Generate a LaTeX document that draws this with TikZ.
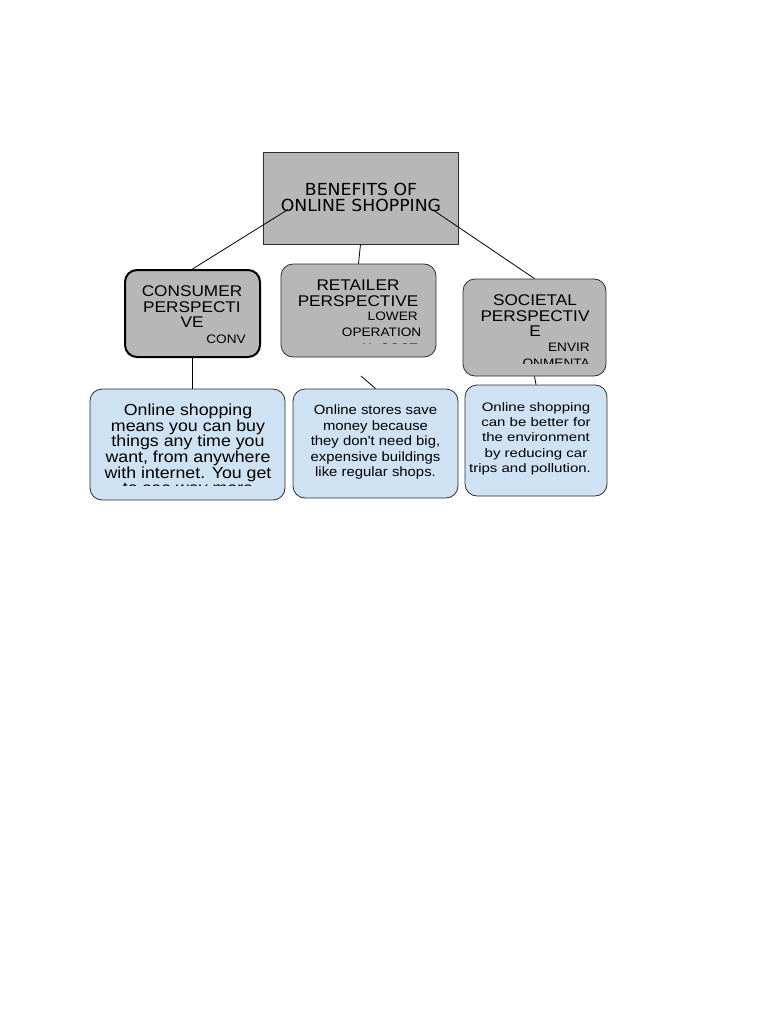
\documentclass[tikz,border=0pt]{standalone}
\usepackage{fontspec}
\newfontfamily\lsA[FakeStretch=1.11]{Liberation Sans}
\newfontfamily\lsB[FakeStretch=1.22]{Liberation Sans}
\newfontfamily\dvs[FakeStretch=1.04]{DejaVu Sans}
\definecolor{boxgray}{RGB}{183,183,183}
\definecolor{boxblue}{RGB}{207,226,243}
\definecolor{edgegray}{RGB}{45,45,45}
\tikzset{
  graybox/.style={draw=edgegray, line width=0.8pt, fill=boxgray, rounded corners=12pt, inner sep=0pt},
  bluebox/.style={draw=edgegray, line width=0.8pt, fill=boxblue, rounded corners=12pt, inner sep=0pt},
  txt/.style={inner sep=0pt, align=center, text=black},
  conn/.style={draw=black, line width=0.8pt},
}
\begin{document}
\begin{tikzpicture}[x=1pt,y=-1pt]
\useasboundingbox (0,0) rectangle (768,1024);
\fill[white] (0,0) rectangle (768,1024);

% boxes
\node[draw=edgegray, line width=0.8pt, fill=boxgray, inner sep=0pt, minimum width=195pt, minimum height=92pt] (title) at (360.5,198) {};
\node[graybox, draw=black, line width=2pt, minimum width=135pt, minimum height=87pt] (cons) at (192.5,313.5) {};
\node[graybox, minimum width=155pt, minimum height=93pt] (ret) at (358.5,310.5) {};
\node[graybox, minimum width=143pt, minimum height=97pt] (soc) at (534.5,327.5) {};
\node[bluebox, minimum width=195pt, minimum height=111pt] (cblue) at (187.5,444.5) {};
\node[bluebox, minimum width=165pt, minimum height=109pt] (rblue) at (375.5,443.5) {};
\node[bluebox, minimum width=142pt, minimum height=111pt] (sblue) at (536,440.5) {};

% texts
\node[txt, font=\dvs\fontsize{16.6}{16}\selectfont] (titletxt) at (361,197) {BENEFITS OF\\ONLINE SHOPPING};
\node[txt, font=\lsA\fontsize{15.5}{15.5}\selectfont] (constxt) at (192,307) {CONSUMER\\PERSPECTI\\VE};
\node[txt, anchor=east, font=\lsA\fontsize{12.3}{16}\selectfont] (conssub) at (246,339) {CONV};
\node[txt, font=\lsA\fontsize{15.5}{15.5}\selectfont] (rettxt) at (358,293) {RETAILER\\PERSPECTIVE};
\begin{scope}
  \clip (300,305) rectangle (430,343.5);
  \node[txt, align=right, anchor=east, font=\lsA\fontsize{12.3}{16}\selectfont] (retsub) at (421.5,332.5) {LOWER\hspace*{3.5pt}\\OPERATION\\AL COST\hspace*{3.5pt}};
\end{scope}
\node[txt, font=\lsA\fontsize{15.5}{15.5}\selectfont] (soctxt) at (535,316) {SOCIETAL\\PERSPECTIV\\E};
\begin{scope}
  \clip (480,335) rectangle (600,363.5);
  \node[txt, align=right, anchor=east, font=\lsA\fontsize{12.3}{16}\selectfont] (socsub) at (590,355.5) {ENVIR\\ONMENTA};
\end{scope}
\begin{scope}
  \clip (95,395) rectangle (280,485);
  \node[txt, font=\lsA\fontsize{16}{15.6}\selectfont] (cbluetxt) at (188,450.5) {Online shopping\\means you can buy\\things any time you\\want, from anywhere\\with internet. You get\\to see way more};
\end{scope}
\node[txt, font=\lsA\fontsize{13.4}{15.5}\selectfont] (rbluetxt) at (375.5,442.5) {Online stores save\\money because\\they don't need big,\\expensive buildings\\like regular shops.};
\node[txt, font=\lsB\fontsize{12.3}{15.3}\selectfont] (sbluetxt) at (536,438.8) {Online shopping\\can be better for\\the environment\\by reducing car\\trips and pollution.\hspace*{12pt}};

% connectors
\coordinate (tl) at (288,209.5);
\coordinate (tr) at (433,210);
\coordinate (r1) at (361,376);
\draw[conn] (tl) -- (cons.north);
\draw[conn] (tr) -- (soc.north);
\draw[conn] (title.south) -- (ret.north);
\draw[conn] (cons.south) -- (cons.south |- cblue.north);
\draw[conn] (r1) -- (rblue.north);
\draw[conn] (soc.south) -- (sblue.north);
\end{tikzpicture}
\end{document}
